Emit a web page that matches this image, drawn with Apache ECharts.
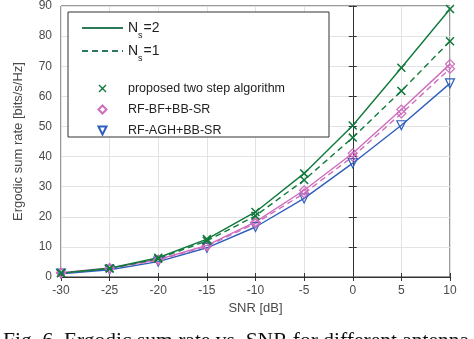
<!DOCTYPE html>
<html><head><meta charset="utf-8">
<script src="https://cdn.jsdelivr.net/npm/echarts@6/dist/echarts.min.js"></script>
<style>html,body{margin:0;padding:0;background:#fff}#c{width:474px;height:339px}</style>
</head><body><div id="c"></div>
<script>
var snr = [-30, -25, -20, -15, -10, -5, 0, 5, 10];
var proposedNs2 = [1.3, 2.9, 6.4, 12.6, 21.6, 34.4, 50.3, 69.5, 89.0];
var proposedNs1 = [1.3, 2.8, 6.1, 12.0, 20.3, 32.2, 46.3, 61.8, 78.3];
var rfbfNs2 = [1.4, 3.0, 5.8, 10.5, 18.3, 28.8, 41.1, 55.6, 70.7];
var rfbfNs1 = [1.3, 2.8, 5.6, 10.2, 17.8, 27.8, 40.0, 54.3, 69.2];
var raghNs2 = [1.1, 2.4, 5.1, 9.7, 16.6, 26.1, 37.8, 50.4, 64.3];
var yTicks = [0, 10, 20, 30, 40, 50, 60, 70, 80, 90];
var xTicks = [-30, -25, -20, -15, -10, -5, 0, 5, 10];
var legendNames = ['Ns=2', 'Ns=1', 'proposed two step algorithm', 'RF-BF+BB-SR', 'RF-AGH+BB-SR'];

var GREEN = '#0f7a3c', PINK = '#cf6dbd', BLUE = '#2f5fbd', LGREEN = '#2d7a5a';
var XPATH = 'path://M0,1.2L1.2,0L5,3.8L8.8,0L10,1.2L6.2,5L10,8.8L8.8,10L5,6.2L1.2,10L0,8.8L3.8,5Z';
var FONT = '"Liberation Sans", Arial, sans-serif';

function pairs(v) { return snr.map(function (x, i) { return [x, v[i]]; }); }
function dataSeries(v, color, dashed, symbol, opts) {
  var s = {
    type: 'line', data: pairs(v), symbol: symbol, symbolSize: 9, showSymbol: true,
    lineStyle: { color: color, width: 1.4, type: dashed ? [6, 4] : 'solid' },
    itemStyle: { color: 'transparent', borderColor: color, borderWidth: 1.2 },
    z: 3, silent: true, animation: false
  };
  if (symbol === XPATH) { s.itemStyle = { color: color, borderWidth: 0 }; }
  for (var k in (opts || {})) s[k] = opts[k];
  return s;
}
function legendSeries(name, color, dashed, symbol, hideLine, opts) {
  var s = {
    name: name, type: 'line', data: [], symbol: symbol, symbolSize: 9,
    lineStyle: { color: color, width: 1.4, type: dashed ? [6, 4] : 'solid', opacity: hideLine ? 0 : 1 },
    itemStyle: { color: 'transparent', borderColor: color, borderWidth: 1.1 },
    animation: false
  };
  if (symbol === XPATH) { s.itemStyle = { color: color, borderWidth: 0 }; }
  if (symbol === 'none') { s.itemStyle = { color: 'transparent', borderColor: 'transparent', borderWidth: 0, opacity: 0 }; }
  for (var k in (opts || {})) s[k] = opts[k];
  return s;
}

var chart = echarts.init(document.getElementById('c'), null, { renderer: 'canvas' });
var axisLabel = { color: '#4a4a4a', fontSize: 12, fontFamily: FONT };
var option = {
  animation: false,
  backgroundColor: '#fff',
  grid: { left: 61, right: 24, top: 5, bottom: 62, show: true, borderColor: '#333', borderWidth: 1, backgroundColor: 'transparent' },
  xAxis: [{
    type: 'value', min: -30, max: 10, interval: 5,
    name: 'SNR [dB]', nameLocation: 'middle', nameGap: 22,
    nameTextStyle: { color: '#4a4a4a', fontSize: 13, fontFamily: FONT },
    axisLine: { show: true, lineStyle: { color: '#333', width: 1 } },
    axisTick: { show: true, inside: true, length: 4, lineStyle: { color: '#333' } },
    axisLabel: Object.assign({ margin: 8, formatter: function (v) { return xTicks.indexOf(v) >= 0 ? String(v) : ''; } }, axisLabel),
    splitLine: { show: true, lineStyle: { color: '#e3e3e3', width: 1 } }
  }, {
    type: 'value', min: -30, max: 10, interval: 5, position: 'top',
    axisLine: { show: false }, axisTick: { show: true, inside: true, length: 4, lineStyle: { color: '#333' } },
    axisLabel: { show: false }, splitLine: { show: false }
  }],
  yAxis: [{
    type: 'value', min: 0, max: 90, interval: 10,
    name: 'Ergodic sum rate [bits/s/Hz]', nameLocation: 'middle', nameGap: 36,
    nameTextStyle: { color: '#4a4a4a', fontSize: 13, fontFamily: FONT },
    axisLine: { show: true, lineStyle: { color: '#333', width: 1 } },
    axisTick: { show: true, inside: true, length: 4, lineStyle: { color: '#333' } },
    axisLabel: Object.assign({ margin: 9, formatter: function (v) { return yTicks.indexOf(v) >= 0 ? String(v) : ''; } }, axisLabel),
    splitLine: { show: true, lineStyle: { color: '#e3e3e3', width: 1 } }
  }, {
    type: 'value', min: 0, max: 90, interval: 10, position: 'right',
    axisLine: { show: false }, axisTick: { show: true, inside: true, length: 4, lineStyle: { color: '#333' } },
    axisLabel: { show: false }, splitLine: { show: false }
  }],
  legend: [{
    orient: 'vertical', left: 76, top: 16, itemWidth: 41, itemHeight: 14, itemGap: 4,
    data: [legendNames[0], legendNames[1]],
    formatter: function (n) { return '{a|N}{s|s}{a|' + n.slice(2) + '}'; },
    textStyle: {
      color: '#222', fontFamily: FONT,
      rich: {
        a: { fontSize: 14, color: '#222', fontFamily: FONT, lineHeight: 24, verticalAlign: 'middle' },
        s: { fontSize: 9, color: '#222', fontFamily: FONT, lineHeight: 24, verticalAlign: 'bottom', padding: [0, 1, 0, 0] }
      }
    },
    selectedMode: false, z: 5
  }, {
    orient: 'vertical', left: 76, top: 76, itemWidth: 41, itemHeight: 10, itemGap: 6,
    data: [legendNames[2], legendNames[3], legendNames[4]],
    textStyle: { color: '#222', fontSize: 12.5, fontFamily: FONT, lineHeight: 15 },
    selectedMode: false, z: 5
  }],
  graphic: [{
    type: 'rect', shape: { x: 68, y: 12, width: 261, height: 125 },
    style: { fill: '#fff', stroke: '#333', lineWidth: 1 }, z: 4, silent: true
  }, {
    type: 'text', left: 3, top: 330, z: 10, silent: true,
    style: { text: 'Fig. 6. Ergodic sum rate vs. SNR for different antenna settings and', fill: '#111', fontSize: 21.5, fontFamily: '"Liberation Serif", "Times New Roman", serif' }
  }],
  series: [
    dataSeries(raghNs2, BLUE, false, 'triangle', { symbolRotate: 180 }),
    dataSeries(rfbfNs1, PINK, true, 'diamond'),
    dataSeries(rfbfNs2, PINK, false, 'diamond'),
    dataSeries(proposedNs1, GREEN, true, XPATH),
    dataSeries(proposedNs2, GREEN, false, XPATH),
    legendSeries(legendNames[0], LGREEN, false, 'none', false),
    legendSeries(legendNames[1], LGREEN, true, 'none', false),
    legendSeries(legendNames[2], GREEN, false, XPATH, true),
    legendSeries(legendNames[3], PINK, false, 'diamond', true),
    legendSeries(legendNames[4], BLUE, false, 'triangle', true, { symbolRotate: 180 })
  ]
};
chart.setOption(option);
</script>
</body></html>
